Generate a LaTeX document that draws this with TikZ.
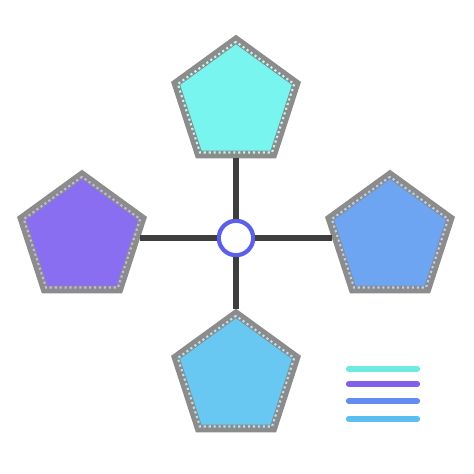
\documentclass[tikz,border=0pt]{standalone}
\usetikzlibrary{shapes.geometric}

\definecolor{pentgray}{RGB}{140,140,140}
\definecolor{spoke}{RGB}{62,62,62}
\definecolor{hubblue}{RGB}{92,96,232}
\definecolor{cyanfill}{RGB}{120,245,238}
\definecolor{purplefill}{RGB}{138,110,242}
\definecolor{bluefill}{RGB}{110,165,242}
\definecolor{skyfill}{RGB}{104,200,242}
\definecolor{legcyan}{RGB}{110,235,225}
\definecolor{legpurple}{RGB}{130,95,235}
\definecolor{legblue}{RGB}{100,140,240}
\definecolor{legsky}{RGB}{90,190,240}

\tikzset{
  pent/.style={regular polygon, regular polygon sides=5, draw=pentgray, line width=5.5pt, minimum size=3.175cm, inner sep=0pt, fill=#1},
  pentdots/.style={regular polygon, regular polygon sides=5, draw=#1!50!white, dotted, line width=1.5pt, minimum size=3.06cm, inner sep=0pt},
  legendline/.style={line width=4.5pt, line cap=round, draw=#1}
}

\begin{document}
\begin{tikzpicture}[x=0.025cm, y=-0.025cm]
	 \fill[white] (0,0) rectangle (474,474);
	 % spokes and hub
	 \node[circle, draw=hubblue, line width=3pt, fill=white, minimum size=0.86cm, inner sep=0pt] (hub) at (236,238) {};
	 \node[pent=cyanfill] (top) at (236,103) {};
	 \node[pentdots=cyanfill] (topdots) at (236,103) {};
	 \node[pent=purplefill] (left) at (82,238) {};
	 \node[pentdots=purplefill] (leftdots) at (82,238) {};
	 \node[pent=bluefill] (right) at (390,238) {};
	 \node[pentdots=bluefill] (rightdots) at (390,238) {};
	 \node[pent=skyfill] (bottom) at (236,377) {};
	 \node[pentdots=skyfill] (bottomdots) at (236,377) {};
	 \draw[spoke, line width=4.5pt] (hub) -- (top);
	 \draw[spoke, line width=4.5pt] (hub) -- (bottom);
	 \draw[spoke, line width=4.5pt] (hub) -- (left);
	 \draw[spoke, line width=4.5pt] (hub) -- (right);
	 %
	 \draw[legendline=legcyan] (349,369) -- (417,369);
	 \draw[legendline=legpurple] (349,384) -- (417,384);
	 \draw[legendline=legblue] (349,401) -- (417,401);
	 \draw[legendline=legsky] (349,419) -- (417,419);
	\end{tikzpicture}
\end{document}
